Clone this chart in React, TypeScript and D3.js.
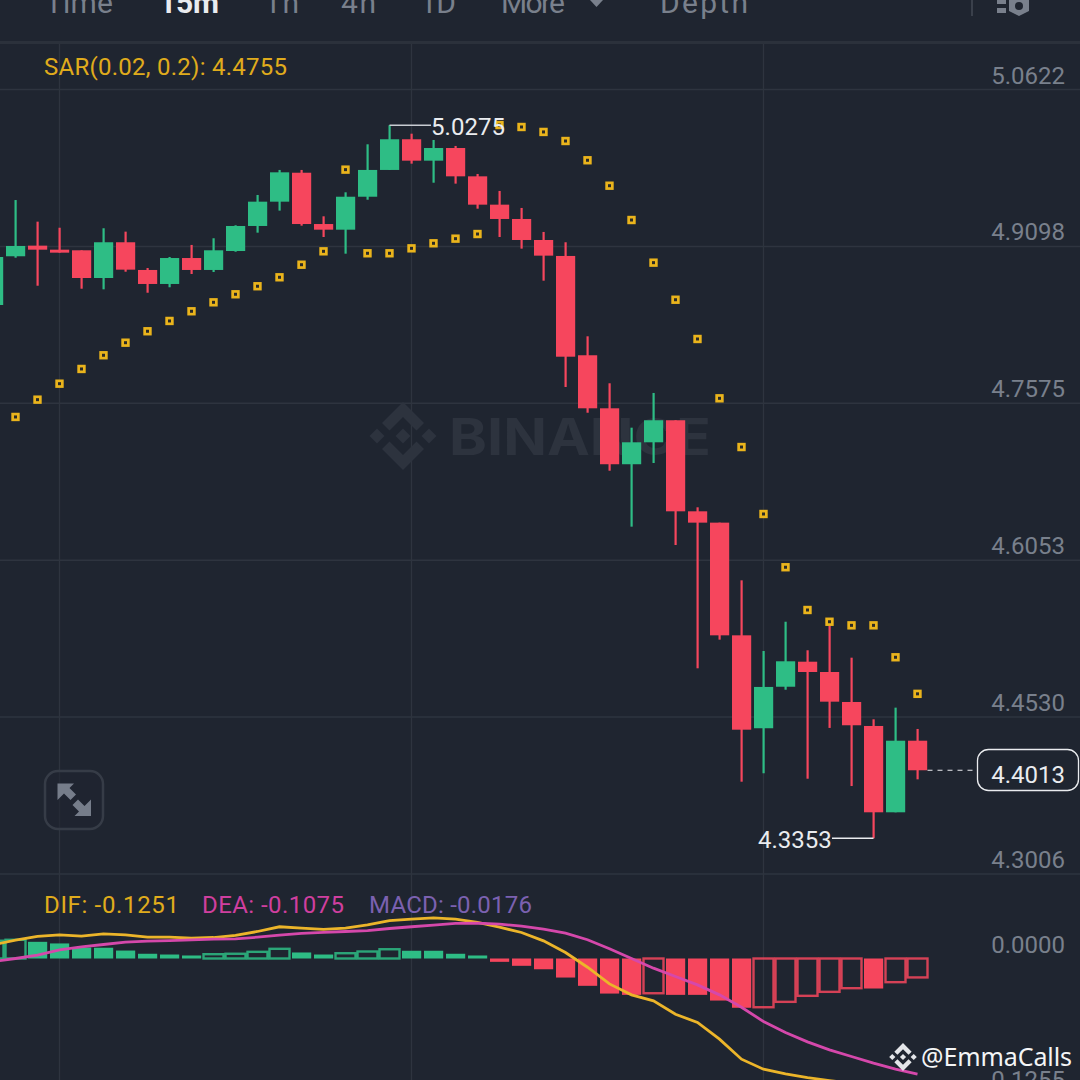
import React from 'react'
import * as d3 from 'd3'

const opens = [4.8530, 4.9003, 4.9106, 4.9067, 4.9061, 4.8792, 4.9139, 4.8870, 4.8734, 4.8986, 4.8870, 4.9054, 4.9297, 4.9533, 4.9814, 4.9316, 4.9261, 4.9581, 4.9841, 5.0139, 4.9931, 5.0054, 4.9779, 4.9504, 4.9365, 4.9161, 4.9006, 4.8042, 4.7527, 4.6984, 4.7197, 4.7411, 4.6527, 4.6417, 4.5323, 4.4421, 4.4824, 4.5067, 4.4967, 4.4676, 4.4443, 4.3605, 4.4300]
const closes = [4.8996, 4.9103, 4.9067, 4.9038, 4.8792, 4.9139, 4.8873, 4.8734, 4.8986, 4.8870, 4.9061, 4.9297, 4.9533, 4.9818, 4.9316, 4.9261, 4.9581, 4.9841, 5.0139, 4.9931, 5.0054, 4.9779, 4.9504, 4.9365, 4.9161, 4.9009, 4.8028, 4.7527, 4.6984, 4.7197, 4.7411, 4.6527, 4.6417, 4.5323, 4.4407, 4.4822, 4.5071, 4.4967, 4.4679, 4.4450, 4.3605, 4.4300, 4.4013]
const highs = [4.9015, 4.9549, 4.9339, 4.9280, 4.9061, 4.9275, 4.9242, 4.8889, 4.8996, 4.9113, 4.9178, 4.9304, 4.9598, 4.9841, 4.9841, 4.9391, 4.9624, 5.0090, 5.0275, 5.0193, 5.0132, 5.0074, 4.9802, 4.9637, 4.9472, 4.9239, 4.9139, 4.8226, 4.7770, 4.7339, 4.7676, 4.7411, 4.6566, 4.6417, 4.5857, 4.5171, 4.5455, 4.5178, 4.5417, 4.5106, 4.4508, 4.4621, 4.4414]
const lows = [4.8520, 4.8989, 4.8717, 4.9038, 4.8688, 4.8682, 4.8853, 4.8649, 4.8702, 4.8831, 4.8850, 4.9047, 4.9232, 4.9446, 4.9300, 4.9190, 4.9028, 4.9552, 4.9841, 4.9902, 4.9717, 4.9708, 4.9465, 4.9190, 4.9077, 4.8766, 4.7734, 4.7484, 4.6921, 4.6378, 4.6996, 4.6200, 4.5003, 4.5281, 4.3902, 4.3984, 4.4795, 4.3931, 4.4424, 4.3860, 4.3353, 4.3605, 4.3925]
// first candle has no visible dot, it is off the left edge
const sar = [4.7300, 4.7443, 4.7611, 4.7766, 4.7909, 4.8042, 4.8164, 4.8275, 4.8375, 4.8469, 4.8556, 4.8634, 4.8712, 4.8799, 4.8921, 4.9051, 4.9844, 4.9032, 4.9032, 4.9080, 4.9129, 4.9174, 4.9219, 5.0277, 5.0258, 5.0210, 5.0122, 4.9935, 4.9688, 4.9355, 4.8941, 4.8581, 4.8200, 4.7624, 4.7151, 4.6501, 4.5984, 4.5569, 4.5455, 4.5420, 4.5420, 4.5110, 4.4755]

const dif = [0.0127, 0.0171, 0.0205, 0.0220, 0.0208, 0.0229, 0.0220, 0.0198, 0.0198, 0.0189, 0.0195, 0.0214, 0.0251, 0.0295, 0.0282, 0.0270, 0.0282, 0.0313, 0.0353, 0.0366, 0.0378, 0.0366, 0.0335, 0.0291, 0.0242, 0.0164, 0.0056, -0.0081, -0.0236, -0.0338, -0.0394, -0.0518, -0.0595, -0.0750, -0.0936, -0.1029, -0.1073, -0.1107, -0.1135, -0.1160, -0.1190, -0.1225, -0.1251]
const dea = [-0.0028, 0, 0.0031, 0.0081, 0.0109, 0.0130, 0.0152, 0.0161, 0.0167, 0.0174, 0.0180, 0.0183, 0.0198, 0.0217, 0.0233, 0.0242, 0.0251, 0.0260, 0.0279, 0.0295, 0.0310, 0.0326, 0.0329, 0.0319, 0.0301, 0.0273, 0.0236, 0.0174, 0.0090, 0, -0.0090, -0.0167, -0.0245, -0.0338, -0.0453, -0.0586, -0.0688, -0.0775, -0.0849, -0.0911, -0.0973, -0.1029, -0.1075]
const macd = [0.0165, 0.0174, 0.0155, 0.0140, 0.0102, 0.0100, 0.0074, 0.0044, 0.0037, 0.0028, 0.0040, 0.0044, 0.0062, 0.0090, 0.0056, 0.0037, 0.0049, 0.0065, 0.0086, 0.0072, 0.0072, 0.0044, 0.0028, -0.0031, -0.0068, -0.0100, -0.0177, -0.0254, -0.0326, -0.0338, -0.0323, -0.0338, -0.0338, -0.0391, -0.0458, -0.0453, -0.0403, -0.0347, -0.0310, -0.0276, -0.0279, -0.0220, -0.0176]

const priceTicks = ['5.0622', '4.9098', '4.7575', '4.6053', '4.4530', '4.3006']
const macdTicks = ['0.0000', '-0.1255']
const tabs = ['Time', '15m', '1h', '4h', '1D', 'More', 'Depth']
const tabX = [45, 159, 264, 341, 420, 501, 660]
const tabW = [68, 60, 35, 35, 36, 64, 88]

const BG = '#1f2530'
const GRID = '#2e343f'
const GREEN = '#2ebd85'
const RED = '#f6465d'
const YELLOW = '#eab41c'
const AXIS = '#79808c'
const FONT = 'Roboto, sans-serif'

const x = d3.scaleLinear().domain([0, 42]).range([-6.5, 917.5])
const y = d3.scaleLinear().domain([5.0622, 4.3006]).range([89.5, 874])
const yM = d3.scaleLinear().domain([0, -0.1255]).range([958.5, 1093.5])

const macdLine = (vals: number[]) =>
	d3
		.line<number>()
		.x((_, i) => x(i))
		.y(d => yM(d))(vals) || ''

const Logo = ({ cx, cy, r, fill }: { cx: number; cy: number; r: number; fill: string }) => {
	const k = r / 34
	const diamond = (dx: number) => `M${dx - 7.5} 0L${dx} -7.5L${dx + 7.5} 0L${dx} 7.5Z`
	return (
		<g transform={`translate(${cx},${cy}) scale(${k})`} fill={fill}>
			<path d={diamond(0)} />
			<path d={diamond(-26)} />
			<path d={diamond(26)} />
			<path d="M0 -34L21 -13L13.5 -5.5L0 -19L-13.5 -5.5L-21 -13Z" />
			<path d="M0 34L21 13L13.5 5.5L0 19L-13.5 5.5L-21 13Z" />
		</g>
	)
}

export default function App() {
	const lastX = x(42)
	const lastY = y(closes[42])
	const highX = x(18)
	const lowX = x(40)
	return (
		<svg
			width={1080}
			height={1080}
			style={{ position: 'absolute', left: 0, top: 0, display: 'block', background: BG }}
			fontFamily={FONT}
		>
			{/* top tabs, cut by the screenshot */}
			{tabs.map((t, i) => (
				<text
					key={t}
					x={tabX[i]}
					y={13}
					fontSize={30}
					fontWeight={t === '15m' ? 700 : 400}
					fill={t === '15m' ? '#eaecef' : AXIS}
					textLength={tabW[i]}
				>
					{t}
				</text>
			))}
			<path d="M590 0L603 0L596.5 7Z" fill={AXIS} />
			<rect x={971} y={0} width={2} height={16} fill="#3a404b" />
			<rect x={997} y={0} width={9} height={4} fill={AXIS} />
			<rect x={997} y={8} width={9} height={5} fill={AXIS} />
			<path d="M1009 0H1029V11L1019 16L1009 11Z" fill={AXIS} />
			<circle cx={1019} cy={6} r={4} fill={BG} />
			<rect x={0} y={41} width={1080} height={3} fill="#2b313b" />

			{/* grid */}
			{[3, 19, 35].map(i => (
				<line key={i} x1={x(i)} x2={x(i)} y1={44} y2={1080} stroke={GRID} strokeWidth={1.3} />
			))}
			{priceTicks.map(t => (
				<line key={t} x1={0} x2={1080} y1={y(+t)} y2={y(+t)} stroke={GRID} strokeWidth={1.5} />
			))}

			{/* watermark */}
			<Logo cx={403} cy={436} r={34} fill="#2d333e" />
			<text
				x={449}
				y={455}
				fontFamily="Inter, sans-serif"
				fontSize={51}
				fontWeight={700}
				fill="#2d333e"
				textLength={262}
				lengthAdjust="spacingAndGlyphs"
			>
				BINANCE
			</text>

			{/* candles */}
			{opens.map((o, i) => {
				const c = closes[i]
				const col = c >= o ? GREEN : RED
				return (
					<g key={i} fill={col}>
						<rect x={x(i) - 1} y={y(highs[i])} width={2.2} height={y(lows[i]) - y(highs[i])} />
						<rect
							x={x(i) - 9.5}
							y={y(Math.max(o, c))}
							width={19.2}
							height={Math.max(y(Math.min(o, c)) - y(Math.max(o, c)), 1)}
						/>
					</g>
				)
			})}

			{/* SAR dots */}
			{sar.map((s, i) => (
				<g key={i}>
					<rect x={x(i) - 4.2} y={y(s) - 4.2} width={8.4} height={8.4} fill={YELLOW} />
					<rect x={x(i) - 1.5} y={y(s) - 1.5} width={3} height={3} fill="#2a2a26" />
				</g>
			))}

			{/* high / low / last price */}
			<path d={`M${highX} ${y(5.0275)}H431`} stroke="#c8ccd2" strokeWidth={1.5} fill="none" />
			<text x={431} y={135} fontSize={24} fill="#eaecef" textLength={74}>
				5.0275
			</text>
			<path d={`M${lowX} ${y(4.3353)}H832`} stroke="#eaecef" strokeWidth={1.5} fill="none" />
			<text x={758} y={848} fontSize={24} fill="#eaecef">
				4.3353
			</text>
			<line
				x1={lastX + 10}
				x2={977}
				y1={lastY}
				y2={lastY}
				stroke="#eaecef"
				strokeWidth={1.2}
				strokeDasharray="5 5"
			/>
			<rect x={977.5} y={749.5} width={101} height={41} rx={11} fill={BG} stroke="#eaecef" strokeWidth={1.3} />
			<text x={1065} y={783} fontSize={24} fill="#eaecef" textAnchor="end">
				{closes[42].toFixed(4)}
			</text>

			{/* axis labels */}
			{priceTicks.map(t => (
				<text key={t} x={1065} y={y(+t) - 6} fontSize={24} fill={AXIS} textAnchor="end">
					{t}
				</text>
			))}
			{macdTicks.map(t => (
				<text key={t} x={1065} y={yM(+t) - 6} fontSize={24} fill={AXIS} textAnchor="end">
					{t}
				</text>
			))}

			{/* expand button */}
			<rect x={45} y={771} width={58} height={58} rx={13} fill={BG} fillOpacity={0.6} stroke="#363c47" strokeWidth={2.5} />
			<path d="M57.5 783.5H74L69.5 788L76 794.5L70.5 800L64 793.5L57.5 800Z" fill="#767d8a" />
			<path d="M91 816H74.5L79 811.5L72.5 805L78 799.5L84.5 806L91 799.5Z" fill="#767d8a" />

			{/* indicator labels */}
			<text x={44} y={75} fontSize={24} fill="#e0ac1c" textLength={243}>
				{`SAR(0.02, 0.2): ${sar[42].toFixed(4)}`}
			</text>
			<text x={44} y={913} fontSize={24} fill="#e0ac1c" textLength={135}>
				{`DIF: ${dif[42].toFixed(4)}`}
			</text>
			<text x={202} y={913} fontSize={24} fill="#cf3f9f" textLength={142}>
				{`DEA: ${dea[42].toFixed(4)}`}
			</text>
			<text x={369} y={913} fontSize={24} fill="#7b61b0" textLength={163}>
				{`MACD: ${macd[42].toFixed(4)}`}
			</text>

			{/* MACD histogram */}
			{macd.map((m, i) => {
				const col = m >= 0 ? GREEN : RED
				const top = yM(Math.max(m, 0))
				const h = Math.abs(yM(m) - yM(0))
				const hollow = i === 0 || m > macd[i - 1]
				return hollow ? (
					<rect
						key={i}
						x={x(i) - 10}
						y={top}
						width={20}
						height={h}
						fill="none"
						stroke={col}
						strokeOpacity={0.85}
						strokeWidth={2.4}
					/>
				) : (
					<rect key={i} x={x(i) - 9.5} y={top} width={19.2} height={h} fill={col} />
				)
			})}
			<path d={macdLine(dif)} fill="none" stroke="#ecb52a" strokeWidth={2.8} />
			<path d={macdLine(dea)} fill="none" stroke="#d548ab" strokeWidth={2.8} />

			{/* uploader mark */}
			<Logo cx={903} cy={1057} r={14} fill="#e4e6e9" />
			<text x={921} y={1066} fontSize={25} fontFamily="'Noto Sans', sans-serif" fill="#f4f5f6" textLength={151}>
				@EmmaCalls
			</text>
		</svg>
	)
}
